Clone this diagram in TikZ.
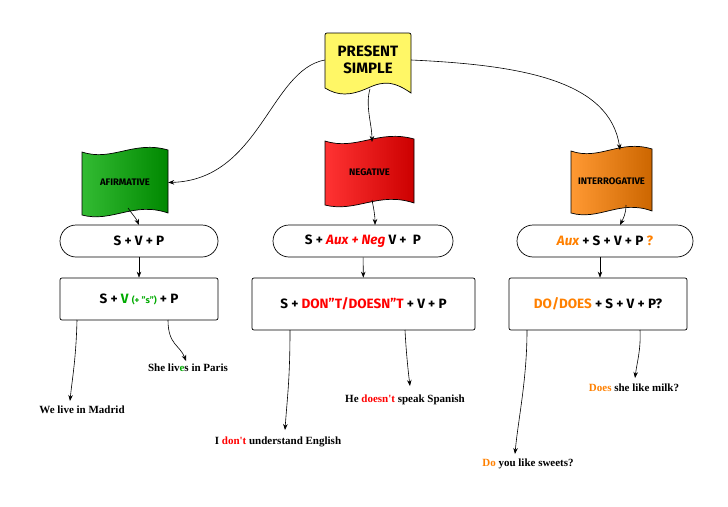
\documentclass[tikz,border=0pt]{standalone}
\usepackage{fontspec}
\setmainfont{Fira Sans}
\newfontfamily\senf{Liberation Serif}
\usetikzlibrary{arrows.meta}
\definecolor{myred}{RGB}{255,0,0}
\definecolor{myorg}{RGB}{255,128,0}
\definecolor{mygrn}{RGB}{0,170,0}
\tikzset{
 conn/.style={draw,-{Stealth[length=6pt,width=4.5pt]},line width=0.6pt},
 stad/.style={draw,line width=0.7pt,rounded corners=16pt,minimum width=158pt,minimum height=32pt,font=\bfseries\fontsize{13.5}{15}\selectfont},
 box/.style={draw,line width=0.7pt,rounded corners=2pt,font=\bfseries\fontsize{13.5}{15}\selectfont},
 sent/.style={font=\senf\bfseries\fontsize{11}{13}\selectfont,inner sep=1pt},
 ftext/.style={font=\bfseries\fontsize{9.5}{11}\selectfont}
}
\newcommand{\myflag}[7]{%
 \path[draw,line width=0.7pt,left color=#6!80!white,right color=#6!80!black]
 (#2,#3) .. controls ({#2+0.35*(#4-#2)},{#3+10}) and ({#2+0.6*(#4-#2)},{#3-12}) .. (#4,{#3-2})
 -- (#4,#5) .. controls ({#4-0.4*(#4-#2)},{#5-12}) and ({#4-0.65*(#4-#2)},{#5+10}) .. (#2,{#5+2}) -- cycle;
 \node[ftext,minimum width={#4-#2},minimum height={#5-#3},inner sep=0pt] (#1) at ({(#2+#4)/2},{(#3+#5)/2}) {#7};
}
\begin{document}
\begin{tikzpicture}[x=1pt,y=-1pt]
\useasboundingbox (0,0) rectangle (728,506);
% Present simple
\path[draw,line width=0.7pt,fill=yellow!60!white] (325,33) [rounded corners=2pt] -- (411,33) [sharp corners] -- (411,93)
 .. controls (395,82) and (385,80) .. (368,88) .. controls (350,96) and (338,96) .. (325,88) [rounded corners=2pt] -- cycle;
\node[font=\bfseries\fontsize{15}{17}\selectfont,align=center,minimum width=86pt,minimum height=60pt,inner sep=0pt] (ps) at (368,60) {PRESENT\\SIMPLE};
\myflag{af}{82}{152}{168}{213}{mygrn}{AFIRMATIVE}
\myflag{ng}{325}{141}{414}{203}{red}{NEGATIVE}
\myflag{in}{571}{151}{652}{211}{orange}{INTERROGATIVE}
% top connectors
\draw[conn] (ps.west) .. controls (270,70) and (260,180) .. (af.east);
\draw[conn] (370,89) .. controls (365,105) and (372,125) .. (372,142);
\draw[conn] (ps.east) .. controls (520,65) and (610,80) .. (620,150);
% stadiums
\node[stad] (s1) at (139,241) {S + V + P};
\node[stad,minimum width=180pt] (s2) at (363,241) {S + \textcolor{myred}{\itshape Aux + Neg} V + \ P};
\node[stad,minimum width=176pt] (s3) at (605,241) {\textcolor{myorg}{\itshape Aux} + S + V + P \textcolor{myorg}{?}};
\draw[conn] (128,208) .. controls (132,214) and (136,218) .. (139,225);
\draw[conn] (372,200) .. controls (374,210) and (375,216) .. (375,225);
\draw[conn] (626,205) .. controls (626,214) and (623,219) .. (620,225);
% boxes
\node[box,minimum width=158pt,minimum height=42pt] (b1) at (139,299) {S + \textcolor{mygrn}{V {\fontsize{9}{10}\selectfont(+ "s")}} + P};
\node[box,minimum width=223pt,minimum height=52pt] (b2) at (363.5,304) {S + \textcolor{myred}{DON"T/DOESN"T} + V + P};
\node[box,minimum width=178pt,minimum height=52pt] (b3) at (598,304) {\textcolor{myorg}{DO/DOES} + S + V + P?};
\draw[conn] (s1) -- (b1);
\draw[conn] (s2) -- (b2);
\draw[conn] (s3.south -| 600,0) -- (b3.north -| 600,0);
% sentences
\node[sent] (t1) at (188,368) {She liv\textcolor{mygrn}{e}s in Paris};
\node[sent] (t2) at (82,410) {We live in Madrid};
\node[sent] (t3) at (278,442) {I \textcolor{myred}{don't} understand English};
\node[sent] (t4) at (405,400) {He \textcolor{myred}{doesn't} speak Spanish};
\node[sent] (t5) at (634,388) {\textcolor{myorg}{Does} she like milk?};
\node[sent] (t6) at (528,464) {\textcolor{myorg}{Do} you like sweets?};
\coordinate (o1) at (77,320); \coordinate (o2) at (168,320);
\coordinate (o3) at (290,330); \coordinate (o4) at (405,330);
\coordinate (o5) at (527,330); \coordinate (o6) at (640,330);
\draw[conn] (o1) .. controls (76,360) and (72,380) .. (70,401);
\draw[conn] (o2) .. controls (168,345) and (180,345) .. (186,361);
\draw[conn] (o3) .. controls (290,380) and (287,400) .. (285,430);
\draw[conn] (o4) .. controls (406,350) and (408,370) .. (410,386);
\draw[conn] (o5) .. controls (527,380) and (518,420) .. (515,454);
\draw[conn] (o6) .. controls (641,350) and (637,362) .. (635,378);
\end{tikzpicture}
\end{document}
